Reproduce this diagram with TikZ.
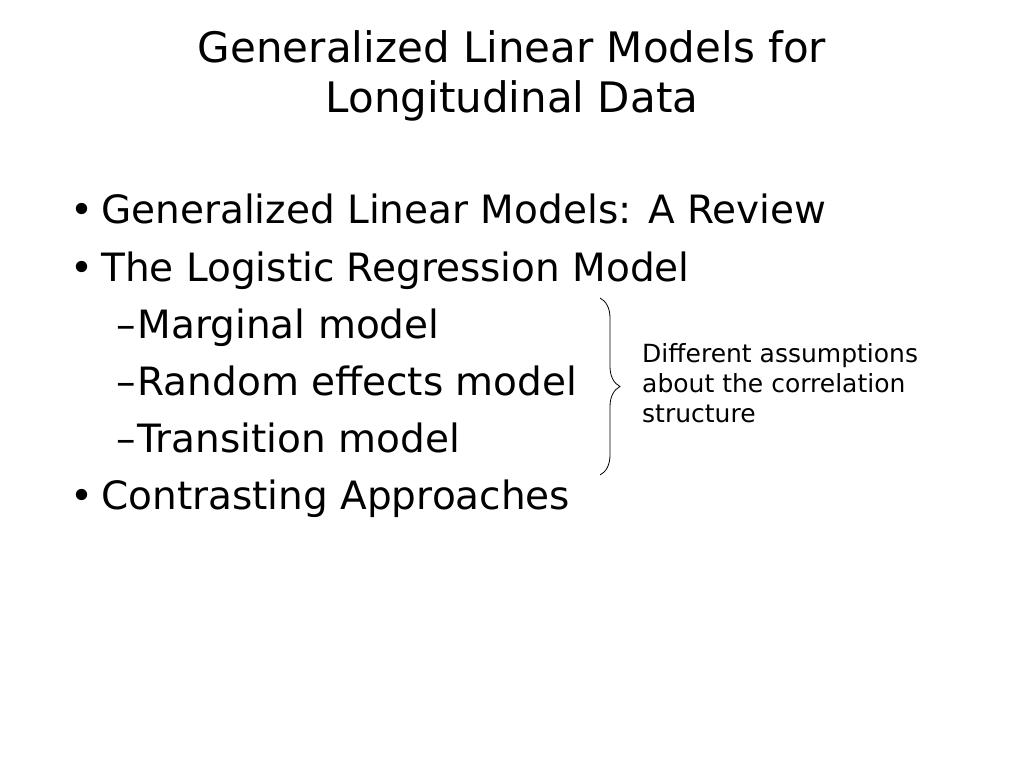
\documentclass[tikz,border=0pt]{standalone}
\usepackage{fontspec}
\setmainfont{DejaVu Sans}
\usetikzlibrary{decorations.pathreplacing}
\begin{document}
\begin{tikzpicture}[x=1pt,y=-1pt,
  title/.style={font=\fontsize{42}{50}\selectfont,anchor=center,align=center},
  item/.style={font=\fontsize{39}{44}\selectfont,anchor=base west,inner sep=0},
  note/.style={font=\fontsize{25}{30}\selectfont,anchor=north west,align=left,inner sep=0}]
\useasboundingbox (0,0) rectangle (1024,768);
\node[title] (t) at (512,76) {Generalized Linear Models for\\Longitudinal Data};
\node[item] (b1) at (70,223) {•\hspace{8pt}Generalized Linear Models: A Review};
\node[item] (b2) at (70,281) {•\hspace{8pt}The Logistic Regression Model};
\node[item] (s1) at (116,338) {–\hspace{2pt}Marginal model};
\node[item] (s2) at (116,395) {–\hspace{2pt}Random effects model};
\node[item] (s3) at (116,452) {–\hspace{2pt}Transition model};
\node[item] (b3) at (70,509) {•\hspace{8pt}Contrasting Approaches};
\coordinate (bt) at (600,298);
\coordinate (bb) at (600,475);
\draw[line width=0.8pt,decorate,decoration={brace,amplitude=20pt}] (bt) -- (bb);
\node[note] (n) at (642,343) {Different assumptions\\about the correlation\\structure};
\end{tikzpicture}
\end{document}
